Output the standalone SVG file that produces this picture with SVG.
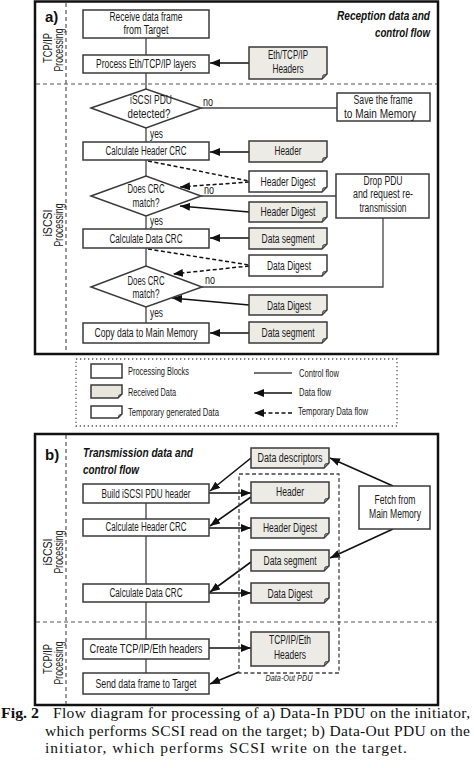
<svg xmlns="http://www.w3.org/2000/svg" width="474" height="768" viewBox="0 0 474 768">
<style>
.frame{fill:none;stroke:#111;stroke-width:2.5}
.sep{fill:none;stroke:#555;stroke-width:1.2;stroke-dasharray:4,3}
.box{fill:#fff;stroke:#3a3a3a;stroke-width:1.5}
.rn{fill:#ecebe6;stroke:#3a3a3a;stroke-width:1.5}
.tn{fill:#fff;stroke:#3a3a3a;stroke-width:1.5}
.fold{fill:#888;stroke:#3a3a3a;stroke-width:0.8}
.t{font-family:"Liberation Sans",Arial,sans-serif;font-size:12px;fill:#1a1a1a;text-anchor:middle}
.s{font-family:"Liberation Sans",Arial,sans-serif;font-size:12px;fill:#1a1a1a}
.lg{font-family:"Liberation Sans",Arial,sans-serif;font-size:10px;fill:#1a1a1a}
.ti{font-family:"Liberation Sans",Arial,sans-serif;font-size:12.5px;font-weight:bold;font-style:italic;fill:#111}
.lab{font-family:"Liberation Sans",Arial,sans-serif;font-size:15px;font-weight:bold;fill:#111}
.cf{fill:none;stroke:#444;stroke-width:1.3}
.df{fill:none;stroke:#111;stroke-width:1.6;marker-end:url(#ah)}
.tf{fill:none;stroke:#111;stroke-width:1.5;stroke-dasharray:4,2.5}
.cap{font-family:"Liberation Serif","Times New Roman",serif;font-size:15.5px;fill:#111}
</style>
<defs>
<marker id="ah" viewBox="0 0 10 8" refX="10" refY="4" markerWidth="10" markerHeight="8" markerUnits="userSpaceOnUse" orient="auto"><path d="M0,0 L10,4 L0,8 Z" fill="#111"/></marker>
</defs>

<g id="frame-a">
<rect class="frame" x="35" y="1.5" width="403" height="352.5"/>
<line class="sep" x1="66" y1="3" x2="66" y2="353"/>
<line class="sep" x1="36" y1="84" x2="437" y2="84"/>
<text class="lab" x="45" y="22">a)</text>
<text class="ti" x="430" y="20" text-anchor="end" textLength="93" lengthAdjust="spacingAndGlyphs">Reception data and</text>
<text class="ti" x="430" y="37" text-anchor="end" textLength="55" lengthAdjust="spacingAndGlyphs">control flow</text>
<text class="t" transform="translate(52,48) rotate(-90)" textLength="30" lengthAdjust="spacingAndGlyphs">TCP/IP</text>
<text class="t" transform="translate(63,50) rotate(-90)" textLength="43" lengthAdjust="spacingAndGlyphs">Processing</text>
<text class="t" transform="translate(52,223) rotate(-90)" textLength="27" lengthAdjust="spacingAndGlyphs">iSCSI</text>
<text class="t" transform="translate(63,225) rotate(-90)" textLength="43" lengthAdjust="spacingAndGlyphs">Processing</text>
</g>

<g id="connectors">
<path class="cf" d="M146,38 V55 M146,73 V89 M146,128 V142 M146,160 V176 M146,216 V229 M146,248 V266 M146,307 V323"/>
<path class="cf" d="M201,108 H337 M201,196 H336 M202,287 H383 V218"/>
<line class="df" x1="249" y1="63" x2="210" y2="63"/>
<line class="df" x1="249" y1="152" x2="210" y2="152"/>
<line class="tf" x1="148" y1="161" x2="249" y2="181"/>
<line class="tf" x1="249" y1="182" x2="180" y2="187" marker-end="url(#ah)"/>
<line class="df" x1="249" y1="212" x2="180" y2="206"/>
<line class="df" x1="249" y1="238" x2="210" y2="238"/>
<line class="tf" x1="148" y1="249" x2="249" y2="265"/>
<line class="tf" x1="249" y1="266" x2="173" y2="274" marker-end="url(#ah)"/>
<line class="df" x1="249" y1="305" x2="172" y2="298"/>
<line class="df" x1="249" y1="333" x2="210" y2="333"/>
<path class="cf" d="M146,503 V519 M146,536 V584 M146,602 V639 M146,659 V673"/>
<line class="df" x1="251" y1="458" x2="210" y2="491"/>
<line class="df" x1="209" y1="493" x2="251" y2="493"/>
<line class="df" x1="251" y1="497" x2="210" y2="526"/>
<line class="df" x1="209" y1="528" x2="251" y2="528"/>
<line class="df" x1="393" y1="486" x2="330" y2="458"/>
<line class="df" x1="393" y1="529" x2="330" y2="558"/>
<line class="df" x1="251" y1="562" x2="210" y2="592"/>
<line class="df" x1="209" y1="593" x2="251" y2="593"/>
<line class="df" x1="209" y1="648" x2="251" y2="648"/>
<line class="df" x1="239" y1="672" x2="210" y2="684"/>
<line class="cf" x1="254" y1="373" x2="292" y2="373"/>
<line class="df" x1="292" y1="393" x2="254" y2="393"/>
<line class="tf" x1="292" y1="413" x2="254" y2="413" marker-end="url(#ah)"/>
</g>

<g id="n-receive"><rect class="box" x="83" y="10" width="126" height="28"/>
<text class="t" x="146" y="21" textLength="73" lengthAdjust="spacingAndGlyphs">Receive data frame</text>
<text class="t" x="146" y="34" textLength="45" lengthAdjust="spacingAndGlyphs">from Target</text></g>
<g id="n-process"><rect class="box" x="83" y="55" width="126" height="18"/>
<text class="t" x="146" y="68" textLength="100" lengthAdjust="spacingAndGlyphs">Process Eth/TCP/IP layers</text></g>
<g id="n-ethhdr"><path class="rn" d="M249,47 H327 V74 L322,79 H249 Z"/><path class="fold" d="M322,79 L323,75 L327,74 Z"/>
<text class="t" x="288" y="59" textLength="40" lengthAdjust="spacingAndGlyphs">Eth/TCP/IP</text>
<text class="t" x="288" y="73" textLength="31" lengthAdjust="spacingAndGlyphs">Headers</text></g>
<g id="d-iscsi"><polygon class="box" points="91,108 146,89 201,108 146,128"/>
<text class="t" x="151" y="104" textLength="42" lengthAdjust="spacingAndGlyphs">iSCSI PDU</text>
<text class="t" x="149" y="118" textLength="43" lengthAdjust="spacingAndGlyphs">detected?</text>
<text class="s" x="203" y="106" textLength="10" lengthAdjust="spacingAndGlyphs">no</text>
<text class="s" x="150" y="138" textLength="13" lengthAdjust="spacingAndGlyphs">yes</text></g>
<g id="n-save"><rect class="box" x="337" y="93" width="93" height="28"/>
<text class="t" x="383" y="104" textLength="59" lengthAdjust="spacingAndGlyphs">Save the frame</text>
<text class="t" x="380" y="118" textLength="72" lengthAdjust="spacingAndGlyphs">to Main Memory</text></g>
<g id="n-calchdr-a"><rect class="box" x="83" y="142" width="126" height="18"/>
<text class="t" x="146" y="155" textLength="81" lengthAdjust="spacingAndGlyphs">Calculate Header CRC</text></g>
<g id="n-header-a"><path class="rn" d="M249,141 H327 V157 L322,162 H249 Z"/><path class="fold" d="M322,162 L323,158 L327,157 Z"/>
<text class="t" x="288" y="155" textLength="27" lengthAdjust="spacingAndGlyphs">Header</text></g>
<g id="n-hdtemp"><path class="tn" d="M249,171 H327 V187 L322,192 H249 Z"/><path class="fold" d="M322,192 L323,188 L327,187 Z"/>
<text class="t" x="288" y="186" textLength="55" lengthAdjust="spacingAndGlyphs">Header Digest</text></g>
<g id="d-crc1"><polygon class="box" points="91,196 146,176 201,196 146,216"/>
<text class="t" x="146" y="193" textLength="37" lengthAdjust="spacingAndGlyphs">Does CRC</text>
<text class="t" x="146" y="207" textLength="27" lengthAdjust="spacingAndGlyphs">match?</text>
<text class="s" x="204" y="194" textLength="10" lengthAdjust="spacingAndGlyphs">no</text>
<text class="s" x="150" y="225" textLength="13" lengthAdjust="spacingAndGlyphs">yes</text></g>
<g id="n-hdrecv"><path class="rn" d="M249,202 H327 V217 L322,222 H249 Z"/><path class="fold" d="M322,222 L323,218 L327,217 Z"/>
<text class="t" x="288" y="216" textLength="55" lengthAdjust="spacingAndGlyphs">Header Digest</text></g>
<g id="n-drop"><rect class="box" x="336" y="174" width="93" height="44"/>
<text class="t" x="383" y="185" textLength="39" lengthAdjust="spacingAndGlyphs">Drop PDU</text>
<text class="t" x="383" y="198" textLength="60" lengthAdjust="spacingAndGlyphs">and request re-</text>
<text class="t" x="383" y="212" textLength="47" lengthAdjust="spacingAndGlyphs">transmission</text></g>
<g id="n-calcdata-a"><rect class="box" x="83" y="229" width="126" height="19"/>
<text class="t" x="146" y="243" textLength="73" lengthAdjust="spacingAndGlyphs">Calculate Data CRC</text></g>
<g id="n-dseg1"><path class="rn" d="M249,228 H327 V244 L322,249 H249 Z"/><path class="fold" d="M322,249 L323,245 L327,244 Z"/>
<text class="t" x="288" y="243" textLength="53" lengthAdjust="spacingAndGlyphs">Data segment</text></g>
<g id="n-ddtemp"><path class="tn" d="M249,255 H327 V271 L322,276 H249 Z"/><path class="fold" d="M322,276 L323,272 L327,271 Z"/>
<text class="t" x="289" y="270" textLength="44" lengthAdjust="spacingAndGlyphs">Data Digest</text></g>
<g id="d-crc2"><polygon class="box" points="91,287 146,266 202,287 146,307"/>
<text class="t" x="146" y="285" textLength="37" lengthAdjust="spacingAndGlyphs">Does CRC</text>
<text class="t" x="146" y="298" textLength="27" lengthAdjust="spacingAndGlyphs">match?</text>
<text class="s" x="205" y="284" textLength="10" lengthAdjust="spacingAndGlyphs">no</text>
<text class="s" x="150" y="317" textLength="13" lengthAdjust="spacingAndGlyphs">yes</text></g>
<g id="n-ddrecv"><path class="rn" d="M249,295 H327 V310 L322,315 H249 Z"/><path class="fold" d="M322,315 L323,311 L327,310 Z"/>
<text class="t" x="289" y="310" textLength="44" lengthAdjust="spacingAndGlyphs">Data Digest</text></g>
<g id="n-copy"><rect class="box" x="83" y="323" width="126" height="20"/>
<text class="t" x="146" y="337" textLength="103" lengthAdjust="spacingAndGlyphs">Copy data to Main Memory</text></g>
<g id="n-dseg2"><path class="rn" d="M249,322 H327 V338 L322,343 H249 Z"/><path class="fold" d="M322,343 L323,339 L327,338 Z"/>
<text class="t" x="288" y="337" textLength="53" lengthAdjust="spacingAndGlyphs">Data segment</text></g>

<g id="legend">
<rect x="76" y="359" width="321" height="67" fill="none" stroke="#555" stroke-width="1.3" stroke-dasharray="1.3,2.7"/>
<rect class="box" x="91" y="364" width="31" height="14"/>
<path d="M91,385 H122 V394 L118,398 H91 Z" fill="#e8e6dc" stroke="#3a3a3a" stroke-width="1.5"/><path class="fold" d="M118,398 L119,395 L122,394 Z"/>
<path class="tn" d="M91,406 H122 V414 L118,418 H91 Z"/><path class="fold" d="M118,418 L119,415 L122,414 Z"/>
<text class="lg" x="128" y="375" textLength="61" lengthAdjust="spacingAndGlyphs">Processing Blocks</text>
<text class="lg" x="128" y="396" textLength="48" lengthAdjust="spacingAndGlyphs">Received Data</text>
<text class="lg" x="128" y="416" textLength="91" lengthAdjust="spacingAndGlyphs">Temporary generated Data</text>
<text class="lg" x="299" y="377" textLength="40" lengthAdjust="spacingAndGlyphs">Control flow</text>
<text class="lg" x="299" y="396" textLength="32" lengthAdjust="spacingAndGlyphs">Data flow</text>
<text class="lg" x="298" y="415" textLength="70" lengthAdjust="spacingAndGlyphs">Temporary Data flow</text>
</g>

<g id="frame-b">
<rect class="frame" x="35" y="434" width="403" height="271"/>
<line class="sep" x1="66" y1="435" x2="66" y2="704"/>
<line class="sep" x1="36" y1="622" x2="437" y2="622"/>
<text class="lab" x="45" y="460">b)</text>
<text class="ti" x="83" y="457" textLength="110" lengthAdjust="spacingAndGlyphs">Transmission data and</text>
<text class="ti" x="83" y="474" textLength="56" lengthAdjust="spacingAndGlyphs">control flow</text>
<text class="t" transform="translate(52,552) rotate(-90)" textLength="27" lengthAdjust="spacingAndGlyphs">iSCSI</text>
<text class="t" transform="translate(63,552) rotate(-90)" textLength="43" lengthAdjust="spacingAndGlyphs">Processing</text>
<text class="t" transform="translate(52,659) rotate(-90)" textLength="30" lengthAdjust="spacingAndGlyphs">TCP/IP</text>
<text class="t" transform="translate(63,663) rotate(-90)" textLength="43" lengthAdjust="spacingAndGlyphs">Processing</text>
</g>
<g id="pdu-group">
<rect x="239" y="474" width="100" height="199" fill="none" stroke="#444" stroke-width="1.3" stroke-dasharray="4,2.5"/>
<text x="289" y="681" font-family="Liberation Sans,Arial,sans-serif" font-size="9.5" font-style="italic" fill="#222" text-anchor="middle" textLength="47" lengthAdjust="spacingAndGlyphs">Data-Out PDU</text>
</g>
<g id="n-desc"><path class="rn" d="M251,448 H329 V463 L324,468 H251 Z"/><path class="fold" d="M324,468 L325,464 L329,463 Z"/>
<text class="t" x="290" y="462" textLength="65" lengthAdjust="spacingAndGlyphs">Data descriptors</text></g>
<g id="n-build"><rect class="box" x="83" y="484" width="126" height="19"/>
<text class="t" x="146" y="498" textLength="89" lengthAdjust="spacingAndGlyphs">Build iSCSI PDU header</text></g>
<g id="n-header-b"><path class="rn" d="M251,482 H329 V498 L324,503 H251 Z"/><path class="fold" d="M324,503 L325,499 L329,498 Z"/>
<text class="t" x="290" y="496" textLength="28" lengthAdjust="spacingAndGlyphs">Header</text></g>
<g id="n-calchdr-b"><rect class="box" x="83" y="519" width="126" height="17"/>
<text class="t" x="146" y="531" textLength="81" lengthAdjust="spacingAndGlyphs">Calculate Header CRC</text></g>
<g id="n-hd-b"><path class="rn" d="M251,518 H329 V533 L324,538 H251 Z"/><path class="fold" d="M324,538 L325,534 L329,533 Z"/>
<text class="t" x="290" y="532" textLength="54" lengthAdjust="spacingAndGlyphs">Header Digest</text></g>
<g id="n-fetch"><rect class="box" x="359" y="486" width="71" height="43"/>
<text class="t" x="395" y="504" textLength="41" lengthAdjust="spacingAndGlyphs">Fetch from</text>
<text class="t" x="395" y="518" textLength="52" lengthAdjust="spacingAndGlyphs">Main Memory</text></g>
<g id="n-dseg-b"><path class="rn" d="M251,550 H329 V566 L324,571 H251 Z"/><path class="fold" d="M324,571 L325,567 L329,566 Z"/>
<text class="t" x="290" y="565" textLength="53" lengthAdjust="spacingAndGlyphs">Data segment</text></g>
<g id="n-calcdata-b"><rect class="box" x="83" y="584" width="126" height="18"/>
<text class="t" x="146" y="597" textLength="73" lengthAdjust="spacingAndGlyphs">Calculate Data CRC</text></g>
<g id="n-dd-b"><path class="rn" d="M251,583 H329 V598 L324,603 H251 Z"/><path class="fold" d="M324,603 L325,599 L329,598 Z"/>
<text class="t" x="290" y="598" textLength="45" lengthAdjust="spacingAndGlyphs">Data Digest</text></g>
<g id="n-create"><rect class="box" x="83" y="639" width="126" height="20"/>
<text class="t" x="146" y="653" textLength="113" lengthAdjust="spacingAndGlyphs">Create TCP/IP/Eth headers</text></g>
<g id="n-tcphdr"><path class="rn" d="M251,632 H329 V661 L324,666 H251 Z"/><path class="fold" d="M324,666 L325,662 L329,661 Z"/>
<text class="t" x="290" y="644" textLength="42" lengthAdjust="spacingAndGlyphs">TCP/IP/Eth</text>
<text class="t" x="290" y="659" textLength="32" lengthAdjust="spacingAndGlyphs">Headers</text></g>
<g id="n-send"><rect class="box" x="83" y="673" width="126" height="21"/>
<text class="t" x="146" y="688" textLength="101" lengthAdjust="spacingAndGlyphs">Send data frame to Target</text></g>

<g id="caption">
<text class="cap" x="1" y="718" font-weight="bold" textLength="38" lengthAdjust="spacingAndGlyphs">Fig. 2</text>
<text class="cap" x="53" y="718" textLength="417" lengthAdjust="spacing">Flow diagram for processing of a) Data-In PDU on the initiator,</text>
<text class="cap" x="45" y="736" textLength="425" lengthAdjust="spacing">which performs SCSI read on the target; b) Data-Out PDU on the</text>
<text class="cap" x="45" y="753" textLength="362" lengthAdjust="spacing">initiator, which performs SCSI write on the target.</text>
</g>
</svg>
